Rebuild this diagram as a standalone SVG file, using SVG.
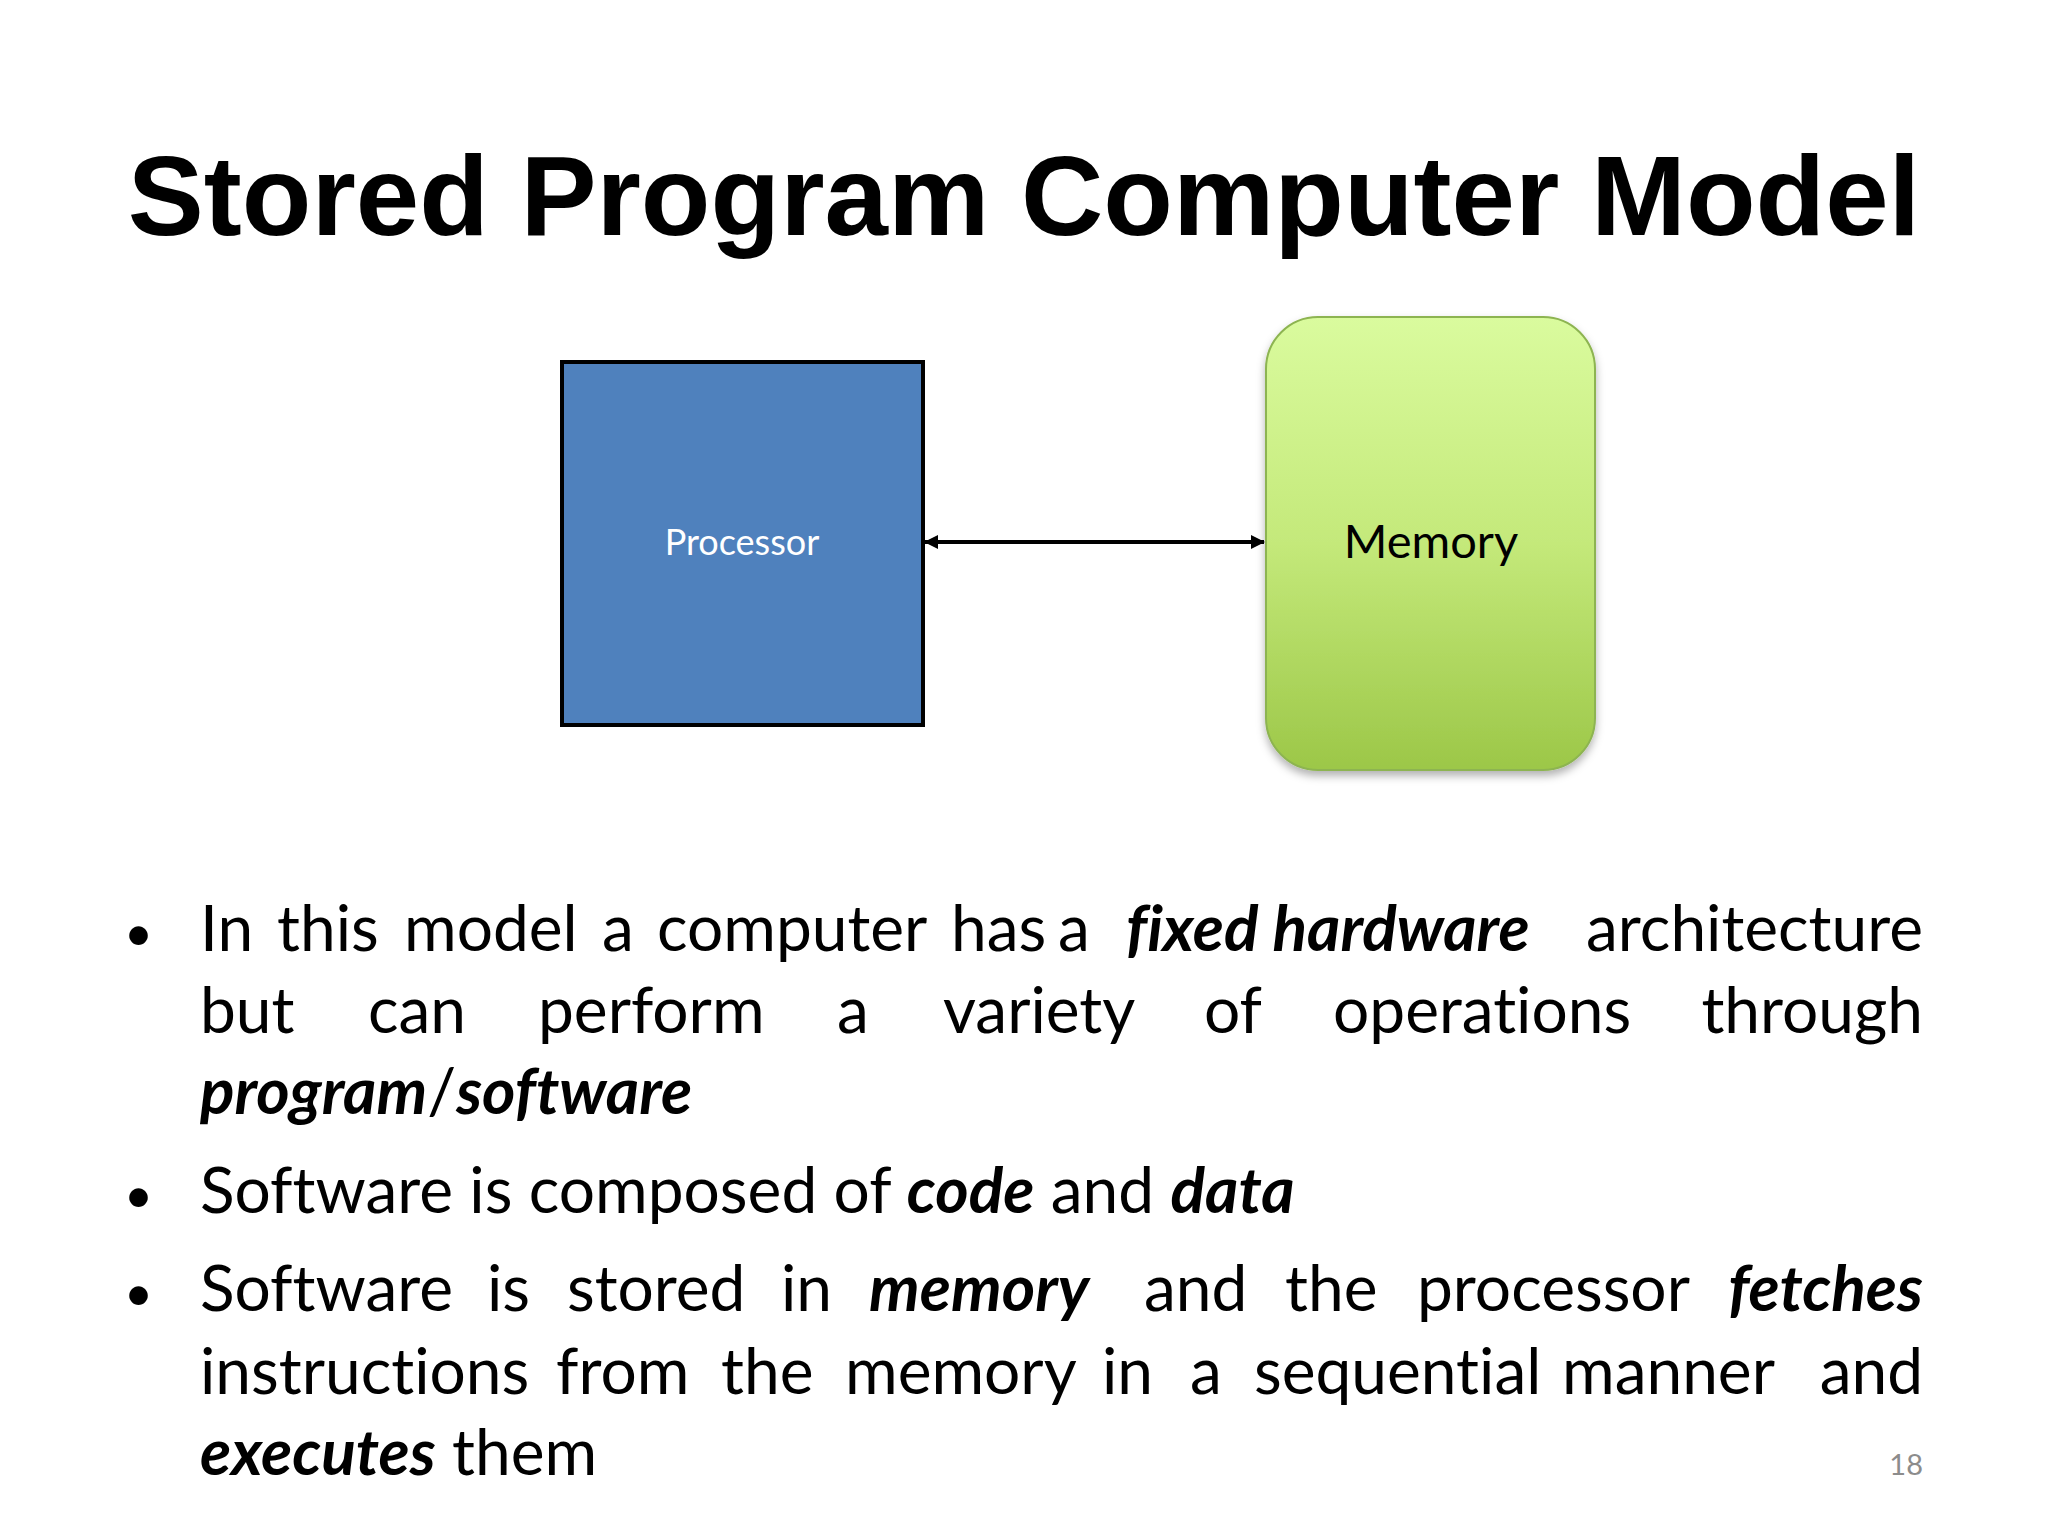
<svg xmlns="http://www.w3.org/2000/svg" width="2048" height="1536" viewBox="0 0 2048 1536">
<style>
.b{font-family:Lato,"Liberation Sans",sans-serif;font-size:64px;fill:#000;font-variant-ligatures:none}
.bi{font-weight:bold;font-style:italic}
.e{text-anchor:end}
</style>
<defs>
<linearGradient id="g" x1="0" y1="0" x2="0" y2="1"><stop offset="0" stop-color="#DAFB9E"/><stop offset="0.5" stop-color="#C4E97A"/><stop offset="1" stop-color="#9CC748"/></linearGradient>
<marker id="a" markerWidth="14" markerHeight="14" refX="13" refY="7" orient="auto-start-reverse" markerUnits="userSpaceOnUse"><path d="M0,0L14,7L0,14z" fill="#000"/></marker>
<filter id="s"><feDropShadow dx="0" dy="5" stdDeviation="4" flood-opacity="0.3"/></filter>
</defs>
<rect width="2048" height="1536" fill="#fff"/>
<text x="1024" y="235" text-anchor="middle" font-family="Liberation Sans,Arial,sans-serif" font-weight="bold" font-size="114">Stored Program Computer Model</text>
<g id="processor"><rect x="562" y="362" width="361" height="363" fill="#4F81BD" stroke="#000" stroke-width="4"/><text x="742" y="555" text-anchor="middle" font-family="Lato,sans-serif" font-size="36" fill="#fff">Processor</text></g>
<g id="memory"><rect x="1266" y="317" width="329" height="453" rx="52" fill="url(#g)" stroke="#8DB451" stroke-width="2" filter="url(#s)"/><text x="1431" y="558" text-anchor="middle" font-family="Lato,sans-serif" font-size="47" fill="#000">Memory</text></g>
<g id="connectors"><line x1="925" y1="542" x2="1264" y2="542" stroke="#000" stroke-width="4" marker-start="url(#a)" marker-end="url(#a)"/></g>
<g class="b">
<text x="124" y="951" font-size="50">•</text><text x="124" y="1213" font-size="50">•</text><text x="124" y="1311" font-size="50">•</text>
<text y="951"><tspan x="200">In</tspan><tspan x="277">this</tspan><tspan x="404">model</tspan><tspan x="602">a</tspan><tspan x="657">computer</tspan><tspan x="951">has</tspan><tspan x="1058">a</tspan><tspan x="1126" class="bi">fixed hardware</tspan></text>
<text y="951" x="1923" class="e">architecture</text>
<text y="1033"><tspan x="200">but</tspan><tspan x="368">can</tspan><tspan x="538">perform</tspan><tspan x="837">a</tspan><tspan x="943">variety</tspan><tspan x="1204">of</tspan><tspan x="1333">operations</tspan></text>
<text y="1033" x="1923" class="e">through</text>
<text y="1114" x="200"><tspan class="bi">program</tspan>/<tspan class="bi">software</tspan></text>
<text y="1213" x="200">Software is composed of <tspan class="bi">code</tspan> and <tspan class="bi">data</tspan></text>
<text y="1311"><tspan x="200">Software</tspan><tspan x="487">is</tspan><tspan x="567">stored</tspan><tspan x="781">in</tspan><tspan x="869" class="bi">memory</tspan><tspan x="1144">and</tspan><tspan x="1285">the</tspan><tspan x="1417">processor</tspan></text>
<text y="1311" x="1923" class="e bi">fetches</text>
<text y="1394"><tspan x="200">instructions</tspan><tspan x="556">from</tspan><tspan x="721">the</tspan><tspan x="845">memory</tspan><tspan x="1102">in</tspan><tspan x="1190">a</tspan><tspan x="1254">sequential</tspan><tspan x="1562">manner</tspan></text>
<text y="1394" x="1923" class="e">and</text>
<text y="1475" x="200"><tspan class="bi">executes</tspan> them</text>
</g>
<text x="1923" y="1475" text-anchor="end" font-family="Lato,sans-serif" font-size="29" fill="#8c8c8c">18</text>
</svg>
